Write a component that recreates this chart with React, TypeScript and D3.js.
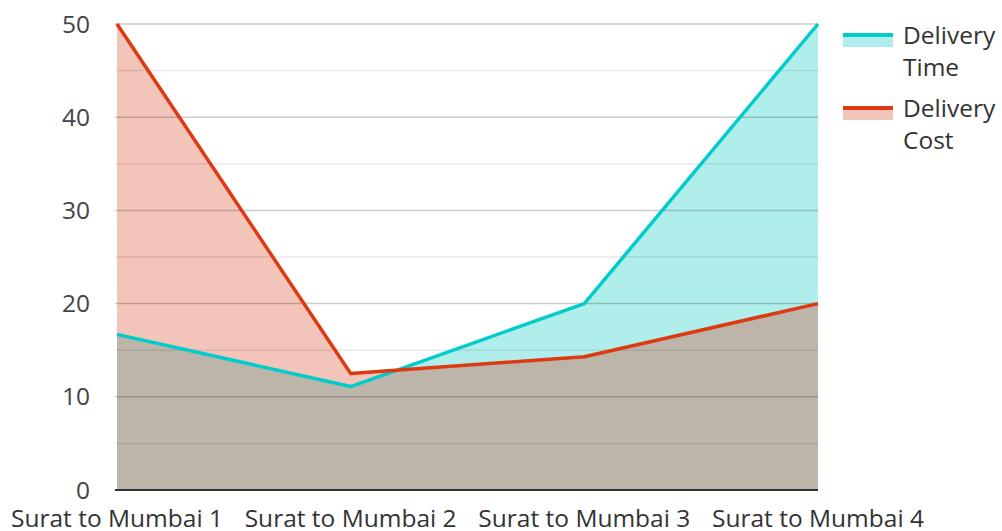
import React from "react";
import * as d3 from "d3";

const categories = ["Surat to Mumbai 1", "Surat to Mumbai 2", "Surat to Mumbai 3", "Surat to Mumbai 4"];
const deliveryTime = [16.7, 11.1, 20, 50];
const deliveryCost = [50, 12.5, 14.3, 20];
const yTicks = [0, 10, 20, 30, 40, 50];
const minorTicks = [5, 15, 25, 35, 45];

const W = 1002;
const H = 531;
const left = 117;
const right = 818;
const top = 24;
const bottom = 490;

const timeLine = "#00cccc";
const costLine = "#dd3a12";
const timeFill = "#b0eeec";
const costFill = "#f2c4ba";
const bothFill = "#bdb5aa";
const font = "'Open Sans', sans-serif";

export default function App() {
  const x = d3.scalePoint<string>().domain(categories).range([left, right]);
  const y = d3.scaleLinear().domain([0, 50]).range([bottom, top]);

  const area = d3
    .area<number>()
    .x((_, i) => x(categories[i]) as number)
    .y0(y(0))
    .y1((d) => y(d));
  const line = d3
    .line<number>()
    .x((_, i) => x(categories[i]) as number)
    .y((d) => y(d));

  const legend = [
    { label: ["Delivery", "Time"], line: timeLine, fill: timeFill },
    { label: ["Delivery", "Cost"], line: costLine, fill: costFill },
  ];

  return (
    <svg
      width={W}
      height={H}
      style={{ position: "absolute", left: 0, top: 0, background: "#fff" }}
    >
      <defs>
        <clipPath id="costClip">
          <path d={area(deliveryCost) || ""} />
        </clipPath>
      </defs>
      <path d={area(deliveryTime) || ""} fill={timeFill} />
      <path d={area(deliveryCost) || ""} fill={costFill} />
      <path d={area(deliveryTime) || ""} fill={bothFill} clipPath="url(#costClip)" />

      {minorTicks.map((t) => (
        <line key={"m" + t} x1={left - 2} x2={right} y1={y(t)} y2={y(t)} stroke="rgba(0,0,0,0.09)" strokeWidth={1.5} />
      ))}
      {yTicks.slice(1).map((t) => (
        <line key={"g" + t} x1={left - 2} x2={right} y1={y(t)} y2={y(t)} stroke="rgba(0,0,0,0.2)" strokeWidth={1.5} />
      ))}
      <line x1={left - 2} x2={right} y1={y(0)} y2={y(0)} stroke="#333" strokeWidth={2} />

      <path d={line(deliveryTime) || ""} fill="none" stroke={timeLine} strokeWidth={3.5} strokeLinejoin="round" />
      <path d={line(deliveryCost) || ""} fill="none" stroke={costLine} strokeWidth={3.5} strokeLinejoin="round" />

      {yTicks.map((t) => (
        <text key={"y" + t} x={90} y={y(t) + 8.5} textAnchor="end" fontFamily={font} fontSize={24.5} fill="#444">
          {t}
        </text>
      ))}
      {categories.map((c) => (
        <text key={c} x={x(c)} y={527} textAnchor="middle" fontFamily={font} fontSize={24.5} fill="#333">
          {c}
        </text>
      ))}

      {legend.map((l, i) => (
        <g key={l.label[1]} transform={`translate(843, ${33 + i * 73})`}>
          <rect x={0} y={0} width={50} height={14} fill={l.fill} />
          <rect x={0} y={0} width={50} height={4} fill={l.line} />
          <text x={60} y={11} fontFamily={font} fontSize={24.5} fill="#333">
            {l.label[0]}
          </text>
          <text x={60} y={43} fontFamily={font} fontSize={24.5} fill="#333">
            {l.label[1]}
          </text>
        </g>
      ))}
    </svg>
  );
}
